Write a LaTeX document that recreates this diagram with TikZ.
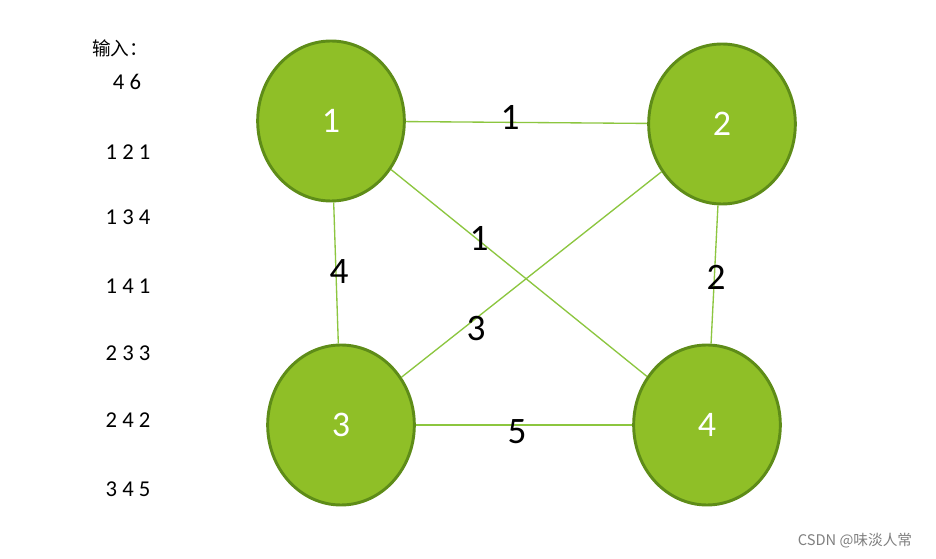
\documentclass[tikz,border=0pt]{standalone}
\usepackage{fontspec}
\setmainfont{Carlito}
\newfontfamily\cjk{Noto Sans CJK SC}
\usetikzlibrary{shapes.geometric}
\definecolor{nodefill}{HTML}{8FBF27}
\definecolor{nodeline}{HTML}{5E8C18}
\definecolor{edgecol}{HTML}{8CC63F}
\begin{document}
\begin{tikzpicture}[x=0.75pt,y=-0.75pt,
  vert/.style={ellipse,fill=nodefill,draw=nodeline,line width=2.2pt,minimum width=110pt,minimum height=120pt,inner sep=0pt,text=white,font=\fontsize{27}{30}\selectfont},
  edge/.style={draw=edgecol,line width=1pt},
  wt/.style={font=\fontsize{28}{30}\selectfont},
  inp/.style={font=\fontsize{17}{20}\selectfont}]
\fill[white] (0,0) rectangle (936,559);
\node[vert] (n1) at (331,121) {1};
\node[vert] (n2) at (722,124) {2};
\node[vert] (n3) at (341,425) {3};
\node[vert] (n4) at (707,425) {4};
\draw[edge] (n1) -- (n2);
\draw[edge] (n1) -- (n4);
\draw[edge] (n1) -- (n3);
\draw[edge] (n2) -- (n4);
\draw[edge] (n2) -- (n3);
\draw[edge] (n3) -- (n4);
\node[wt] (w12) at (510,117) {1};
\node[wt] (w14) at (479,238) {1};
\node[wt] (w13) at (339,272) {4};
\node[wt] (w24) at (716,277) {2};
\node[wt] (w23) at (476,329) {3};
\node[wt] (w34) at (517,432) {5};
\node[font=\cjk\fontsize{14}{16}\selectfont] (title) at (120,48) {输入：};
\node[inp] (l0) at (127,82) {4 6};
\node[inp] (l1) at (128,152) {1 2 1};
\node[inp] (l2) at (128,217) {1 3 4};
\node[inp] (l3) at (128,286) {1 4 1};
\node[inp] (l4) at (128,353) {2 3 3};
\node[inp] (l5) at (128,420) {2 4 2};
\node[inp] (l6) at (128,489) {3 4 5};
\node[font=\cjk\fontsize{11}{13}\selectfont,text=gray] (wm) at (855,541) {CSDN @味淡人常};
\end{tikzpicture}
\end{document}
